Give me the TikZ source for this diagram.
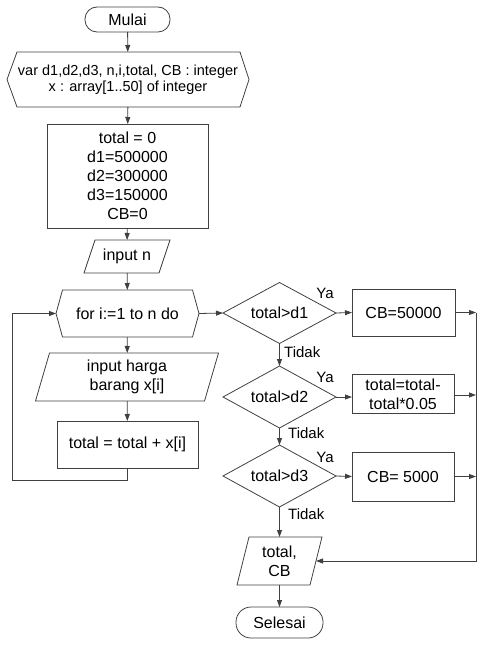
\documentclass[tikz,border=0pt]{standalone}
\usepackage{fontspec}
\setmainfont{Liberation Sans}
\usetikzlibrary{arrows.meta,shapes.geometric,calc}
\begin{document}
\begin{tikzpicture}[x=1pt,y=-1pt,
 line/.style={draw=black!75, line width=0.8pt},
 arr/.style={line, -{Triangle[length=7pt,width=5pt]}},
 txt/.style={inner sep=0pt, outer sep=0pt, align=center, font=\fontsize{16}{19}\selectfont},
 box/.style={txt, line, rectangle},
 term/.style={box, rounded corners=12pt},
 dec/.style={txt, line, diamond, aspect=1.85},
 lbl/.style={font=\fontsize{15}{18}\selectfont, inner sep=0pt}
]
\useasboundingbox (0,0) rectangle (483,650);

% left column
\node[term, minimum width=85pt, minimum height=25pt] (start) at (127.5,19.5) {Mulai};
\node[txt, font=\fontsize{14.5}{16}\selectfont, minimum width=242pt, minimum height=55pt] (var) at (128,79.5)
  {var d1,d2,d3, n,i,total, CB : integer\\x : array[1..50] of integer};
\draw[line] (var.west) -- ($(var.north west)+(10,0)$) -- ($(var.north east)+(-9,0)$) -- (var.east)
  -- ($(var.south east)+(-9,0)$) -- ($(var.south west)+(10,0)$) -- cycle;
\node[box, minimum width=161pt, minimum height=104pt] (init) at (127.5,176)
  {total = 0\\d1=500000\\d2=300000\\d3=150000\\CB=0};
\node[txt, minimum width=75pt, minimum height=33pt] (inn) at (127,256.5) {input n};
\draw[line] ($(inn.north west)+(5.5,0)$) -- ($(inn.north east)+(5.5,0)$) -- ($(inn.south east)+(-5.5,0)$)
  -- ($(inn.south west)+(-5.5,0)$) -- cycle;
\node[txt, minimum width=143pt, minimum height=47pt] (for) at (127.5,313.5) {for i:=1 to n do};
\draw[line] (for.west) -- ($(for.north west)+(6.5,0)$) -- ($(for.north east)+(-6.5,0)$) -- (for.east)
  -- ($(for.south east)+(-6.5,0)$) -- ($(for.south west)+(6.5,0)$) -- cycle;
\node[txt, minimum width=169pt, minimum height=48pt] (inx) at (127,377) {input harga\\barang x[i]};
\draw[line] ($(inx.north west)+(7,0)$) -- ($(inx.north east)+(7,0)$) -- ($(inx.south east)+(-7,0)$)
  -- ($(inx.south west)+(-7,0)$) -- cycle;
\node[box, minimum width=141pt, minimum height=47pt] (sum) at (127.5,444.5) {total = total + x[i]};
\coordinate (lb) at (127.5,480);
\coordinate (ll) at (12,480);
\coordinate (lt) at (12,313.5);

\draw[arr] (start) -- (var);
\draw[arr] (var) -- (init);
\draw[arr] (init) -- (inn);
\draw[arr] (inn) -- (for);
\draw[arr] (for) -- (inx);
\draw[arr] (inx) -- (sum);
\draw[arr] (sum.south) -- (lb) -- (ll) -- (lt) -- (for.west);

% decisions
\node[dec, minimum width=113pt, minimum height=61pt] (d1) at (279.5,313) {total>d1};
\node[dec, minimum width=113pt, minimum height=62pt] (d2) at (279.5,397) {total>d2};
\node[dec, minimum width=113pt, minimum height=62pt] (d3) at (279.5,476) {total>d3};
\node[box, minimum width=103pt, minimum height=47pt] (r1) at (403.5,312.5) {CB=50000};
\node[box, minimum width=102pt, minimum height=39pt] (r2) at (403,394) {total=total-\\total*0.05};
\node[box, minimum width=102pt, minimum height=49pt] (r3) at (403,476.5) {CB= 5000};
\node[txt, minimum width=73pt, minimum height=48pt] (out) at (279.5,561) {total,\\CB};
\draw[line] ($(out.north west)+(6,0)$) -- ($(out.north east)+(6,0)$) -- ($(out.south east)+(-6,0)$)
  -- ($(out.south west)+(-6,0)$) -- cycle;
\node[term, minimum width=87pt, minimum height=31pt, rounded corners=15pt] (stop) at (279.5,622.5) {Selesai};

\coordinate (v1) at (476,312.5);
\coordinate (v2) at (476,395);
\coordinate (v3) at (476,476.5);
\coordinate (vb) at (476,561);

\draw[arr] (for.east) -- (d1.west);
\draw[arr] (d1.east) -- (r1.west);
\draw[arr] (d2.east) -- (d2.east -| r2.west);
\draw[arr] (d3.east) -- (r3.west);
\draw[arr] (d1) -- (d2);
\draw[arr] (d2) -- (d3);
\draw[arr] (d3) -- (out);
\draw[arr] (out) -- (stop);
\draw[arr] (r1.east) -- (v1);
\draw[arr] (r2.east |- v2) -- (v2);
\draw[arr] (r3.east) -- (v3);
\draw[arr] (v1) -- (vb) -- (out.east);

\node[lbl] (ya1) at (325,293) {Ya};
\node[lbl] (ya2) at (325,377) {Ya};
\node[lbl] (ya3) at (325,457) {Ya};
\node[lbl, anchor=west] (t1) at (284,352.5) {Tidak};
\node[lbl, anchor=west] (t2) at (288,433) {Tidak};
\node[lbl, anchor=west] (t3) at (288,514.5) {Tidak};
\end{tikzpicture}
\end{document}
